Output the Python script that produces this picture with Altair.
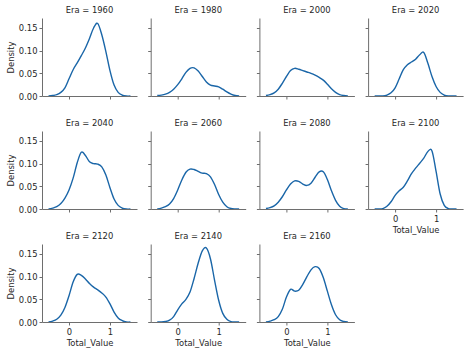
import altair as alt
import pandas as pd

eras = [1960, 1980, 2000, 2020, 2040, 2060, 2080, 2100, 2120, 2140, 2160]

x_grid = [-0.5, -0.4, -0.3, -0.2, -0.1, 0.0, 0.1, 0.2, 0.3, 0.4, 0.5,
          0.6, 0.7, 0.8, 0.9, 1.0, 1.1, 1.2, 1.3, 1.4, 1.5]

dens_1960 = [0, 0.001, 0.003, 0.008, 0.018, 0.038, 0.058, 0.073, 0.089, 0.106, 0.127,
             0.150, 0.160, 0.135, 0.098, 0.056, 0.024, 0.008, 0.002, 0, 0]
dens_1980 = [0.001, 0.002, 0.004, 0.008, 0.015, 0.025, 0.038, 0.052, 0.061, 0.062, 0.055,
             0.043, 0.031, 0.024, 0.022, 0.020, 0.015, 0.009, 0.004, 0.001, 0]
dens_2000 = [0.001, 0.003, 0.007, 0.015, 0.028, 0.043, 0.056, 0.061, 0.059, 0.056, 0.053,
             0.050, 0.046, 0.041, 0.035, 0.026, 0.016, 0.008, 0.003, 0.001, 0]
dens_2020 = [0, 0, 0, 0.002, 0.007, 0.018, 0.038, 0.058, 0.069, 0.075, 0.081,
             0.091, 0.096, 0.072, 0.043, 0.021, 0.008, 0.002, 0, 0, 0]
dens_2040 = [0, 0.002, 0.005, 0.012, 0.024, 0.042, 0.068, 0.102, 0.125, 0.118, 0.104,
             0.100, 0.099, 0.093, 0.075, 0.047, 0.022, 0.008, 0.002, 0, 0]
dens_2060 = [0, 0.002, 0.005, 0.011, 0.023, 0.042, 0.064, 0.081, 0.088, 0.087, 0.083,
             0.079, 0.078, 0.071, 0.054, 0.032, 0.015, 0.005, 0.001, 0, 0]
dens_2080 = [0.001, 0.003, 0.007, 0.015, 0.027, 0.042, 0.055, 0.062, 0.061, 0.055, 0.052,
             0.057, 0.070, 0.082, 0.082, 0.065, 0.040, 0.019, 0.006, 0.001, 0]
dens_2100 = [0, 0, 0.001, 0.006, 0.016, 0.030, 0.040, 0.048, 0.062, 0.078, 0.090,
             0.101, 0.112, 0.127, 0.128, 0.083, 0.033, 0.008, 0.001, 0, 0]
dens_2120 = [0, 0.002, 0.006, 0.015, 0.032, 0.058, 0.088, 0.105, 0.103, 0.095, 0.085,
             0.077, 0.071, 0.064, 0.055, 0.040, 0.022, 0.009, 0.003, 0, 0]
dens_2140 = [0, 0, 0.001, 0.004, 0.012, 0.027, 0.040, 0.050, 0.066, 0.096, 0.130,
             0.157, 0.163, 0.139, 0.092, 0.048, 0.019, 0.006, 0.001, 0, 0]
dens_2160 = [0, 0.002, 0.005, 0.012, 0.028, 0.055, 0.072, 0.068, 0.070, 0.083, 0.100,
             0.115, 0.122, 0.118, 0.098, 0.068, 0.038, 0.016, 0.005, 0.001, 0]

densities = [dens_1960, dens_1980, dens_2000, dens_2020, dens_2040, dens_2060,
             dens_2080, dens_2100, dens_2120, dens_2140, dens_2160]

y_ticks = [0, 0.05, 0.10, 0.15]
x_ticks = [0, 1]

FONT = "DejaVu Sans"
FS = 8.4
LINE = "#1a66a8"
AX = "#6e6e6e"
TXT = "#262626"

ncols = 4
n = len(eras)


def panel(i, era, dens):
    col = i % ncols
    show_y = col == 0
    # x labels on last panel of each column
    show_x = i + ncols >= n
    df = pd.DataFrame({"Total_Value": x_grid, "Density": dens})
    x_axis = alt.Axis(values=x_ticks, labels=show_x,
                      title="Total_Value" if show_x else None,
                      format="d")
    y_axis = alt.Axis(values=y_ticks, labels=show_y,
                      title="Density" if show_y else None,
                      format=".2f")
    return (
        alt.Chart(df, title=alt.TitleParams(f"Era = {era}", fontSize=FS, font=FONT,
                                            fontWeight="normal", color=TXT, offset=4))
        .mark_line(color=LINE, strokeWidth=1.4, interpolate="cardinal", clip=True)
        .encode(
            x=alt.X("Total_Value:Q", axis=x_axis,
                    scale=alt.Scale(domain=[-0.66, 1.66], nice=False, zero=False)),
            y=alt.Y("Density:Q", axis=y_axis,
                    scale=alt.Scale(domain=[0, 0.172], nice=False, zero=True)),
        )
        .properties(width=95, height=78)
    )


panels = [panel(i, e, d) for i, (e, d) in enumerate(zip(eras, densities))]

chart = (
    alt.concat(*panels, columns=ncols, spacing={"row": 35, "column": 13.7}, bounds="flush")
    .properties(padding={"left": 6, "top": 5, "right": 5, "bottom": 5})
    .configure_view(stroke=None)
    .configure_axis(
        grid=False,
        domainColor=AX, domainWidth=1,
        tickColor=AX, tickSize=3, tickWidth=1,
        labelFont=FONT, labelFontSize=FS, labelColor=TXT, labelPadding=2,
        titleFont=FONT, titleFontSize=FS, titleColor=TXT, titleFontWeight="normal",
        titlePadding=3,
    )
)

chart.save("out.html", embed_options={"renderer": "svg", "actions": False})
